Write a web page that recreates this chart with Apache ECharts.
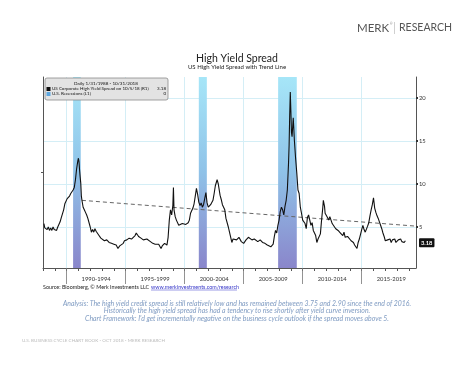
<!DOCTYPE html>
<html><head><meta charset="utf-8">
<script src="https://cdn.jsdelivr.net/npm/echarts@6/dist/echarts.min.js"></script>
<style>html,body{margin:0;padding:0;background:#fff}#c{width:474px;height:366px}</style>
</head><body><div id="c"></div>
<script>
// ---- data ----
const years = [1988.08,1988.15,1988.25,1988.35,1988.45,1988.55,1988.65,1988.75,1988.85,1988.95,1989.05,1989.15,1989.25,1989.35,1989.45,1989.55,1989.65,1989.75,1989.85,1989.95,
1990.05,1990.15,1990.25,1990.35,1990.45,1990.55,1990.65,1990.75,1990.85,1990.95,1991.0,1991.05,1991.1,1991.15,1991.2,1991.25,1991.3,1991.4,1991.5,1991.6,1991.7,1991.8,1991.9,
1992.0,1992.1,1992.2,1992.3,1992.4,1992.5,1992.6,1992.7,1992.8,1992.9,1993.0,1993.2,1993.4,1993.6,1993.8,1993.9,1994.0,1994.2,1994.35,1994.5,1994.6,1994.8,1994.9,
1995.1,1995.3,1995.5,1995.6,1995.8,1995.9,1996.1,1996.3,1996.5,1996.6,1996.8,1996.9,1997.1,1997.3,1997.5,1997.6,1997.8,1998.0,1998.1,1998.3,1998.5,1998.6,1998.7,1998.8,1998.9,1999.0,1999.05,1999.1,1999.2,1999.3,1999.5,1999.6,1999.8,1999.9,
2000.1,2000.3,2000.4,2000.5,2000.7,2000.8,2000.9,2001.0,2001.1,2001.2,2001.3,2001.4,2001.5,2001.6,2001.7,2001.8,2001.9,2002.0,2002.2,2002.4,2002.5,2002.6,2002.75,2002.85,2003.0,2003.1,2003.2,2003.4,2003.5,2003.7,2003.8,
2004.0,2004.1,2004.2,2004.4,2004.5,2004.6,2004.8,2005.0,2005.2,2005.4,2005.5,2005.7,2005.9,2006.0,2006.2,2006.4,2006.6,2006.8,2007.0,2007.3,2007.4,2007.5,2007.6,2007.7,2007.8,2007.9,
2008.0,2008.1,2008.2,2008.3,2008.4,2008.5,2008.6,2008.7,2008.8,2008.85,2008.9,2008.95,2009.0,2009.05,2009.1,2009.2,2009.25,2009.3,2009.4,2009.5,2009.6,2009.7,2009.8,2009.9,
2010.0,2010.1,2010.2,2010.3,2010.4,2010.5,2010.6,2010.7,2010.8,2010.9,2011.0,2011.1,2011.2,2011.3,2011.4,2011.5,2011.6,2011.7,2011.75,2011.85,2011.9,
2012.0,2012.1,2012.2,2012.3,2012.4,2012.5,2012.6,2012.8,2012.9,2013.0,2013.2,2013.4,2013.5,2013.6,2013.8,2013.9,2014.1,2014.3,2014.4,2014.5,2014.6,2014.7,2014.8,2014.9,
2015.0,2015.1,2015.2,2015.3,2015.4,2015.5,2015.6,2015.7,2015.8,2015.9,2016.0,2016.05,2016.1,2016.2,2016.3,2016.4,2016.5,2016.6,2016.7,2016.8,2016.9,
2017.0,2017.1,2017.2,2017.3,2017.4,2017.5,2017.6,2017.7,2017.8,2017.9,2018.0,2018.1,2018.2,2018.3,2018.4,2018.5,2018.6,2018.7,2018.76];
const spread = [5.4,4.9,5.1,4.7,5.0,4.6,4.9,4.6,5.0,4.7,4.8,4.6,5.0,5.2,5.6,6.1,6.3,7.0,7.7,7.9,
8.3,8.1,8.6,8.9,8.7,9.3,9.6,10.5,11.8,12.7,13.0,12.6,11.6,10.8,10.1,8.6,8.1,7.3,7.0,6.7,6.4,6.0,5.8,
5.0,4.4,4.7,4.4,4.8,4.5,4.3,4.1,3.9,3.7,3.8,3.4,3.5,3.2,3.1,2.9,3.0,2.9,2.5,2.8,2.6,3.1,3.4,
3.5,3.7,3.6,3.8,4.0,4.3,3.9,3.7,3.5,3.4,3.6,3.6,3.3,3.1,3.0,2.9,3.0,2.5,2.8,3.1,2.9,3.8,5.8,7.0,6.4,7.5,9.6,7.0,6.2,5.8,5.2,5.0,5.4,5.5,
5.3,5.5,5.8,6.6,7.2,7.7,8.6,9.5,8.8,7.9,7.5,7.8,7.3,7.6,8.3,9.0,7.8,7.3,7.6,8.1,8.9,9.8,10.5,10.0,8.7,8.2,7.6,7.0,6.0,5.0,4.4,
3.2,3.6,3.4,3.5,3.4,3.8,3.3,3.1,3.5,3.8,3.9,3.5,3.6,3.4,3.3,3.5,3.2,3.1,2.9,2.7,2.6,3.0,3.9,4.6,4.3,5.2,
5.8,6.8,7.3,7.0,6.4,7.4,8.1,9.3,12.4,14.5,18.0,20.7,18.5,16.0,15.5,17.7,16.4,15.0,13.0,11.3,9.3,8.9,7.3,6.6,
5.8,6.0,5.4,4.8,6.1,6.4,5.8,5.2,5.5,4.6,4.3,4.0,3.2,3.6,3.8,4.2,5.8,7.2,8.1,7.4,6.6,
6.8,6.1,5.8,6.2,5.8,5.4,5.2,4.8,5.0,4.6,4.3,4.0,4.4,3.8,3.9,3.7,3.4,3.2,2.9,2.7,2.5,3.2,3.6,3.8,
4.7,5.2,4.7,4.4,4.6,5.1,5.5,6.3,7.0,7.6,8.4,7.8,7.2,6.7,6.3,6.0,5.6,5.2,4.8,4.3,3.9,
3.4,3.6,3.5,3.3,3.6,3.2,3.5,3.3,3.6,3.2,3.4,3.5,3.3,3.6,3.3,3.5,3.2,3.4,3.18];
const trendYears = [1991.3, 2019.6];
const trendValues = [8.1, 5.1];
const recessions = [[1990.55, 1991.2], [2001.2, 2001.88], [2007.92, 2009.5]];
const periodLabels = ['1990-1994','1995-1999','2000-2004','2005-2009','2010-2014','2015-2019'];
const yTicks = [5, 10, 15, 20];

// ---- chart ----
const lastVal = spread[spread.length - 1];
const periodStarts = periodLabels.map(s => +s.slice(0, 4));
const yearTicks = []; for (let y = 1988; y <= 2019; y++) yearTicks.push(y);
const chart = echarts.init(document.getElementById('c'), null, {renderer: 'canvas'});
const F = 'Lato, "Open Sans", sans-serif';
const txt = (x, y, text, o) => ({type: 'text', x, y, z: 20, silent: true,
  style: Object.assign({text, font: '6px ' + F, fill: '#333', textVerticalAlign: 'middle'}, o)});

chart.setOption({
  animation: false,
  backgroundColor: '#fff',
  grid: {left: 43, right: 58, top: 77, bottom: 98},
  xAxis: [{
    type: 'value', min: 1988.0, max: 2019.6,
    axisLine: {lineStyle: {color: '#555', width: 1}},
    axisTick: {customValues: yearTicks, length: 3, lineStyle: {color: '#555'}},
    axisLabel: {customValues: periodStarts.map(s => s + 2.5), margin: 8, fontSize: 5.8, fontFamily: F, color: '#333',
      formatter: v => periodLabels[periodStarts.indexOf(Math.round(v - 2.5))]},
    splitLine: {show: false}
  }, {
    type: 'value', min: 1988.0, max: 2019.6, position: 'bottom',
    axisLine: {show: false},
    axisTick: {customValues: periodStarts, length: 16, inside: false, lineStyle: {color: '#777', width: 0.8}},
    axisLabel: {show: false},
    splitLine: {show: true, lineStyle: {color: '#d4eef6', width: 1}}
  }],
  yAxis: [{
    type: 'value', position: 'right', min: 0.23, max: 22.45,
    axisLine: {show: true, lineStyle: {color: '#555'}},
    axisTick: {show: true, customValues: yTicks, length: 2, lineStyle: {color: '#333', width: 2}},
    axisLabel: {customValues: yTicks.concat([lastVal]), margin: 3, fontSize: 5.8, fontFamily: F, color: '#333',
      formatter: v => v === lastVal ? '{b|' + v.toFixed(2) + '}' : String(v),
      rich: {b: {backgroundColor: '#111', color: '#fff', fontSize: 5.8, fontWeight: 'bold', fontFamily: F,
        padding: [2, 2, 1, 2], borderRadius: 1}}},
    splitLine: {show: true, lineStyle: {color: '#d4eef6', width: 1}}
  }, {
    type: 'value', position: 'left', min: 0, max: 1,
    axisLine: {show: true, lineStyle: {color: '#555'}},
    axisTick: {show: true, customValues: [0.5], length: 2, lineStyle: {color: '#555'}},
    axisLabel: {show: false},
    splitLine: {show: false}
  }],
  series: [{
    name: 'U.S. Recessions (L1)', type: 'line', yAxisIndex: 1, data: [], z: 1,
    markArea: {silent: true,
      itemStyle: {color: {type: 'linear', x: 0, y: 0, x2: 0, y2: 1, colorStops: [
        {offset: 0, color: '#a6e6f8'}, {offset: 0.5, color: '#8fc2e8'}, {offset: 1, color: '#8a86cb'}]}},
      data: recessions.map(r => [{xAxis: r[0]}, {xAxis: r[1]}])}
  }, {
    name: 'Trend', type: 'line', z: 3, symbol: 'none',
    data: trendYears.map((y, i) => [y, trendValues[i]]),
    lineStyle: {color: '#666', width: 1, type: [4, 3]}
  }, {
    name: 'US Corporate High Yield Spread', type: 'line', z: 4, symbol: 'none',
    data: years.map((y, i) => [y, spread[i]]),
    lineStyle: {color: '#111', width: 1.1}
  }],
  graphic: [
    txt(357, 28, 'MERK', {font: '11.5px ' + F, fill: '#555'}),
    txt(390, 24, '®', {font: '3px ' + F, fill: '#777'}),
    {type: 'line', shape: {x1: 394.5, y1: 22, x2: 394.5, y2: 34}, style: {stroke: '#bbb', lineWidth: 0.7}},
    txt(399, 28, 'RESEARCH', {font: '10.5px ' + F, fill: '#555'}),
    txt(237, 59, 'High Yield Spread', {font: '10.5px ' + F, fill: '#222', textAlign: 'center'}),
    txt(237, 67.5, 'US High Yield Spread with Trend Line', {font: '6px ' + F, fill: '#222', textAlign: 'center'}),
    {type: 'rect', shape: {x: 45, y: 78, width: 123, height: 22, r: 2}, style: {fill: '#e3e3e3', stroke: '#8a8a8a', lineWidth: 0.8}, z: 10},
    txt(106, 84, 'Daily 1/31/1988 - 10/31/2018', {font: '4.6px ' + F, fill: '#111', textAlign: 'center'}),
    {type: 'rect', shape: {x: 46.5, y: 87, width: 4, height: 4}, style: {fill: '#111'}, z: 11},
    txt(52, 89, 'US Corporate High Yield Spread on 10/5/18 (R1)', {font: '4.5px ' + F, fill: '#111'}),
    txt(166, 89, lastVal.toFixed(2), {font: '4.5px ' + F, fill: '#111', textAlign: 'right'}),
    {type: 'rect', shape: {x: 46.5, y: 92, width: 4, height: 4}, style: {fill: '#5fa8e0'}, z: 11},
    txt(52, 94, 'U.S. Recessions (L1)', {font: '4.5px ' + F, fill: '#111'}),
    txt(166, 94, '0', {font: '4.5px ' + F, fill: '#111', textAlign: 'right'}),
    txt(43, 287, 'Source: Bloomberg, © Merk Investments LLC ', {font: '5.4px ' + F, fill: '#222'}),
    txt(151, 287, 'www.merkinvestments.com/research', {font: '5.4px ' + F, fill: '#3535c8'}),
    {type: 'line', shape: {x1: 151, y1: 290, x2: 237, y2: 290}, style: {stroke: '#3535c8', lineWidth: 0.5}},
    txt(237, 303.3, 'Analysis: The high yield credit spread is still relatively low and has remained between 3.75 and 2.90 since the end of 2016.', {font: 'italic 6.9px ' + F, fill: '#7f9bc2', textAlign: 'center'}),
    txt(237, 310.8, 'Historically the high yield spread has had a tendency to rise shortly after yield curve inversion.', {font: 'italic 6.9px ' + F, fill: '#7f9bc2', textAlign: 'center'}),
    txt(237, 318.3, "Chart Framework: I'd get incrementally negative on the business cycle outlook if the spread moves above 5.", {font: 'italic 6.9px ' + F, fill: '#7f9bc2', textAlign: 'center'}),
    txt(22, 341, 'U.S. BUSINESS CYCLE CHART BOOK - OCT 2018 - MERK RESEARCH', {font: '4.6px ' + F, fill: '#bbb'})
  ]
});
</script></body></html>
